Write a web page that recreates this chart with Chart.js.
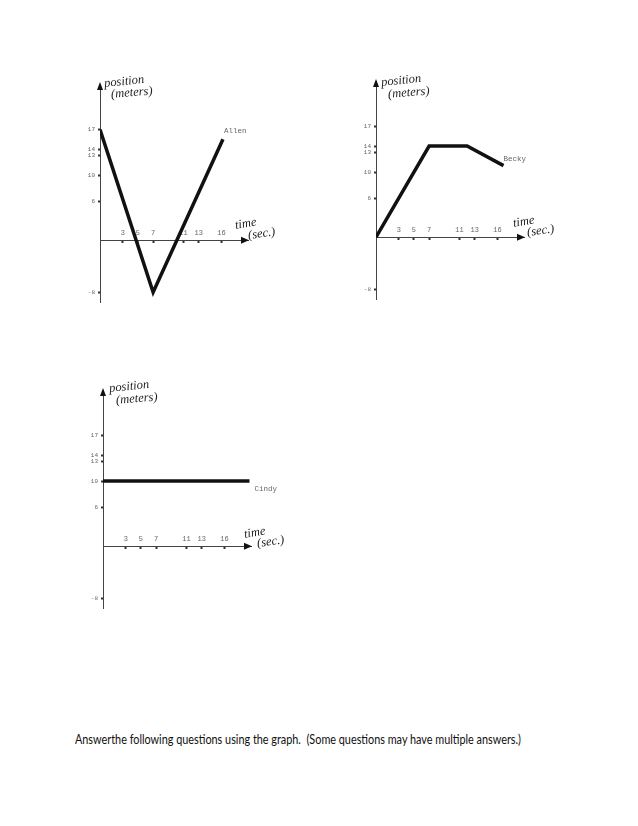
<!DOCTYPE html>
<html>
<head>
<meta charset="utf-8">
<script src="https://cdn.jsdelivr.net/npm/chart.js@4.4.1/dist/chart.umd.min.js"></script>
<style>
  body { margin: 0; background: #fff; width: 638px; height: 826px; position: relative; overflow: hidden; }
  canvas { position: absolute; }
  .hand { position: absolute; font-family: "Liberation Serif", serif; font-style: italic; font-size: 12.5px; color: #222; white-space: nowrap; line-height: 12px; transform-origin: left center; }
  #question { position: absolute; left: 75px; top: 733px; font-family: Lato, "Open Sans", sans-serif; font-size: 12.5px; line-height: 13px; color: #111; white-space: nowrap; transform-origin: left center; }
</style>
</head>
<body>
<canvas id="allenChart" width="203" height="238" style="left:80px;top:74px"></canvas>
<canvas id="beckyChart" width="203" height="238" style="left:356px;top:71px"></canvas>
<canvas id="cindyChart" width="203" height="238" style="left:83px;top:380px"></canvas>

<!-- hand written axis titles of the scan -->
<div class="hand" style="left:104px;top:77px;transform:rotate(-6deg)">position</div>
<div class="hand" style="left:111px;top:88px;transform:rotate(-5deg)">(meters)</div>
<div class="hand" style="left:235px;top:219px;transform:rotate(-10deg)">time</div>
<div class="hand" style="left:248px;top:229px;transform:rotate(-8deg)">(sec.)</div>

<div class="hand" style="left:381px;top:76px;transform:rotate(-6deg)">position</div>
<div class="hand" style="left:388px;top:88px;transform:rotate(-5deg)">(meters)</div>
<div class="hand" style="left:513px;top:217px;transform:rotate(-10deg)">time</div>
<div class="hand" style="left:527px;top:226px;transform:rotate(-8deg)">(sec.)</div>

<div class="hand" style="left:109px;top:382px;transform:rotate(-6deg)">position</div>
<div class="hand" style="left:116px;top:394px;transform:rotate(-5deg)">(meters)</div>
<div class="hand" style="left:244px;top:528px;transform:rotate(-10deg)">time</div>
<div class="hand" style="left:257px;top:537px;transform:rotate(-8deg)">(sec.)</div>

<div id="question">Answerthe following questions using the graph.&nbsp; (Some questions may have multiple answers.)</div>

<script>
// tick labels written on the worksheet axes
const xTicks = [3, 5, 7, 11, 13, 16];
const yTicks = [-8, 6, 10, 13, 14, 17];

// position (m) against time (s)
const allenTime = [0, 7, 16.2];
const allenPos = [17, -8, 15.5];
const beckyTime = [0, 7, 12, 16.8];
const beckyPos = [0, 14, 14, 11];
const cindyTime = [0, 19.3];
const cindyPos = [10, 10];

/* draws the little arrow heads on the ends of both axes */
const axisArrows = {
  id: "axisArrows",
  afterDraw(chart) {
    const ctx = chart.ctx;
    const area = chart.chartArea;
    const x0 = chart.scales.x.getPixelForValue(0);
    const y0 = chart.scales.y.getPixelForValue(0);
    ctx.save();
    ctx.fillStyle = "#111";
    ctx.beginPath();
    ctx.moveTo(x0, area.top - 2);
    ctx.lineTo(x0 - 3, area.top + 6);
    ctx.lineTo(x0 + 3, area.top + 6);
    ctx.closePath();
    ctx.fill();
    ctx.beginPath();
    ctx.moveTo(area.right + 1, y0);
    ctx.lineTo(area.right - 7, y0 - 3.5);
    ctx.lineTo(area.right - 7, y0 + 3.5);
    ctx.closePath();
    ctx.fill();
    ctx.restore();
  },
};

/* writes the runner's name next to the end of the line */
const runnerName = {
  id: "runnerName",
  afterDatasetsDraw(chart, args, opts) {
    const pts = chart.getDatasetMeta(0).data;
    const last = pts[pts.length - 1];
    const ctx = chart.ctx;
    ctx.save();
    ctx.font = "7.5px 'Liberation Mono', monospace";
    ctx.fillStyle = "#666";
    ctx.textAlign = "left";
    ctx.textBaseline = "middle";
    ctx.fillText(chart.data.datasets[0].label, last.x + opts.dx, last.y + opts.dy);
    ctx.restore();
  },
};

function drawGraph(id, times, positions, name, dx, dy) {
  const points = times.map((t, i) => ({ x: t, y: positions[i] }));
  return new Chart(document.getElementById(id), {
    type: "line",
    data: {
      datasets: [
        {
          label: name,
          data: points,
          borderColor: "#111",
          borderWidth: 3.5,
          pointRadius: 0,
          tension: 0,
          borderJoinStyle: "miter",
        },
      ],
    },
    options: {
      responsive: false,
      animation: false,
      layout: { padding: { left: 0, top: 10, right: 35, bottom: 10 } },
      plugins: {
        legend: { display: false },
        tooltip: { enabled: false },
        runnerName: { dx: dx, dy: dy },
      },
      scales: {
        x: {
          type: "linear",
          min: 0,
          max: 19.5,
          position: { y: 0 },
          afterBuildTicks: (s) => {
            s.ticks = xTicks.map((v) => ({ value: v }));
          },
          grid: { drawOnChartArea: false, tickLength: 2, tickWidth: 2, tickColor: "#333" },
          border: { color: "#444", width: 1 },
          ticks: {
            padding: -13,
            autoSkip: false,
            maxRotation: 0,
            font: { family: "'Liberation Mono', monospace", size: 7 },
            color: "#666",
          },
        },
        y: {
          type: "linear",
          min: -9.5,
          max: 24,
          afterBuildTicks: (s) => {
            s.ticks = yTicks.map((v) => ({ value: v }));
          },
          afterFit: (s) => {
            s.width = 20;
          },
          grid: { drawOnChartArea: false, tickLength: 2, tickWidth: 2, tickColor: "#333" },
          border: { color: "#444", width: 1 },
          ticks: {
            padding: 3,
            autoSkip: false,
            font: { family: "'Liberation Mono', monospace", size: 6 },
            color: "#666",
          },
        },
      },
    },
    plugins: [axisArrows, runnerName],
  });
}

drawGraph("allenChart", allenTime, allenPos, "Allen", 1, -8);
drawGraph("beckyChart", beckyTime, beckyPos, "Becky", 0, -7);
drawGraph("cindyChart", cindyTime, cindyPos, "Cindy", 5, 8);

// squeeze the question line to the width it has on the sheet
const q = document.getElementById("question");
q.style.transform = "scaleX(" + 446 / q.getBoundingClientRect().width + ")";
</script>
</body>
</html>
